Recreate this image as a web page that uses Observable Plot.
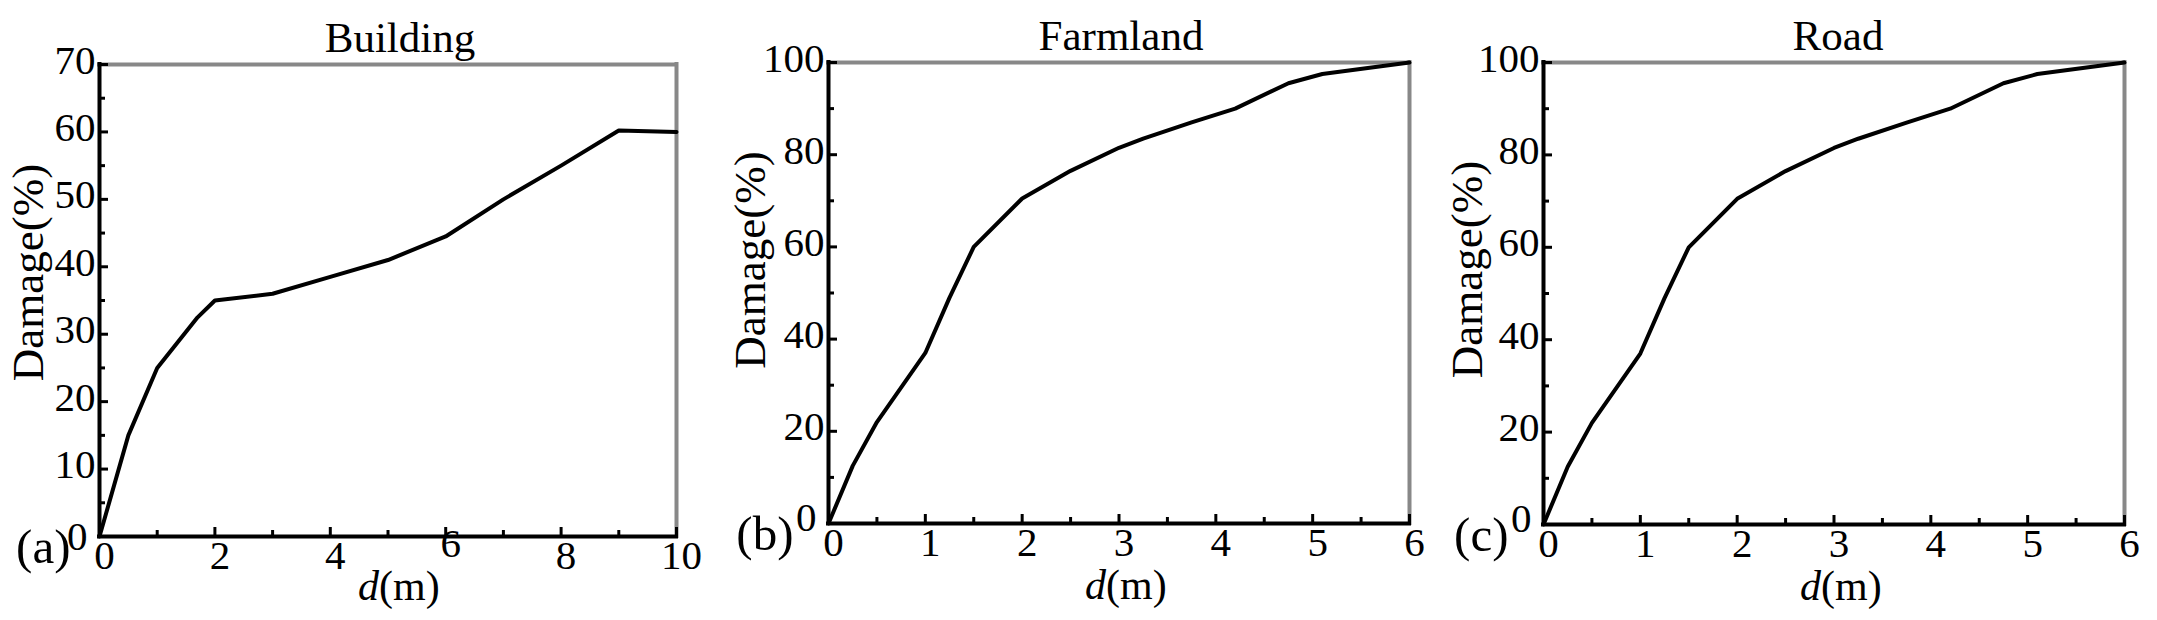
<!DOCTYPE html>
<html>
<head>
<meta charset="utf-8">
<script src="https://cdn.jsdelivr.net/npm/d3@7"></script>
<script src="https://cdn.jsdelivr.net/npm/@observablehq/plot@0.6"></script>
<style>
  html, body { margin: 0; padding: 0; background: #fff; }
  #wrap { position: relative; width: 2157px; height: 620px; overflow: hidden; background: #fff; }
  #wrap > svg { position: absolute; top: 0; }
</style>
</head>
<body>
<div id="wrap"></div>
<script>
// ---------------- data ----------------
const buildingDepth  = [0, 0.5, 1, 1.7, 2, 3, 4, 5, 6, 7, 8, 9, 10];
const buildingDamage = [0, 15, 25, 32.5, 35, 36, 38.5, 41, 44.5, 50, 55, 60.2, 60];

const farmlandDepth  = [0, 0.25, 0.5, 1, 1.25, 1.5, 2, 2.5, 3, 3.25, 3.75, 4.2, 4.75, 5.1, 6];
const farmlandDamage = [0, 12.5, 22, 37, 49, 60, 70.5, 76.5, 81.5, 83.5, 87, 90, 95.5, 97.5, 100];

const roadDepth  = [0, 0.25, 0.5, 1, 1.25, 1.5, 2, 2.5, 3, 3.25, 3.75, 4.2, 4.75, 5.1, 6];
const roadDamage = [0, 12.5, 22, 37, 49, 60, 70.5, 76.5, 81.5, 83.5, 87, 90, 95.5, 97.5, 100];

const buildingXTicks = [0, 2, 4, 6, 8, 10];
const buildingXMinor = [1, 3, 5, 7, 9];
const buildingYTicks = [0, 10, 20, 30, 40, 50, 60, 70];
const buildingYMinor = [5, 15, 25, 35, 45, 55, 65];

const sixXTicks = [0, 1, 2, 3, 4, 5, 6];
const sixXMinor = [0.5, 1.5, 2.5, 3.5, 4.5, 5.5];
const pctYTicks = [0, 20, 40, 60, 80, 100];
const pctYMinor = [10, 30, 50, 70, 90];

const titles  = ["Building", "Farmland", "Road"];
const letters = ["(a)", "(b)", "(c)"];
const yLabel = "Damage(%)";
const xLabelItalic = "d";
const xLabelRest = "(m)";

// ---------------- layout ----------------
const FONT = "'Liberation Serif', 'Times New Roman', Times, serif";
const panels = [
  {left: 0, width: 720, mL: 99, mR: 44, mT: 64, mB: 84,
   depth: buildingDepth, damage: buildingDamage, xMax: 10, yMax: 70,
   xTicks: buildingXTicks, xMinor: buildingXMinor, yTicks: buildingYTicks, yMinor: buildingYMinor,
   title: titles[0], letter: letters[0], titleDx: 12, letterDx: -29, zeroDy: 0,
   yLabDx: -71, yLabDy: -28, xLabDx: 10, xLabDy: 50, raised: 6},
  {left: 720, width: 720, mL: 108, mR: 31, mT: 62, mB: 97,
   depth: farmlandDepth, damage: farmlandDamage, xMax: 6, yMax: 100,
   xTicks: sixXTicks, xMinor: sixXMinor, yTicks: pctYTicks, yMinor: pctYMinor,
   title: titles[1], letter: letters[1], titleDx: 2, letterDx: -35, zeroDy: -6,
   yLabDx: -78, yLabDy: -33, xLabDx: 6, xLabDy: 62, raised: null},
  {left: 1440, width: 717, mL: 103, mR: 33, mT: 62, mB: 96,
   depth: roadDepth, damage: roadDamage, xMax: 6, yMax: 100,
   xTicks: sixXTicks, xMinor: sixXMinor, yTicks: pctYTicks, yMinor: pctYMinor,
   title: titles[2], letter: letters[2], titleDx: 4, letterDx: -35, zeroDy: -6,
   yLabDx: -76, yLabDy: -24, xLabDx: 6, xLabDy: 62, raised: null}
];

const wrap = document.getElementById("wrap");

for (const p of panels) {
  const H = 620;
  const innerW = p.width - p.mL - p.mR;
  const innerH = H - p.mT - p.mB;
  const rows = p.depth.map((d, i) => ({d, v: p.damage[i]}));
  const normalX = p.raised == null ? p.xTicks : p.xTicks.filter(t => t !== p.raised);
  const raisedX = p.raised == null ? [] : [p.raised];
  const yNonZero = p.yTicks.filter(t => t !== 0);

  const chart = Plot.plot({
    width: p.width,
    height: H,
    marginLeft: p.mL, marginRight: p.mR, marginTop: p.mT, marginBottom: p.mB,
    style: {fontFamily: FONT, fontSize: "41px", color: "#000", background: "#fff", overflow: "visible"},
    x: {domain: [0, p.xMax]},
    y: {domain: [0, p.yMax]},
    marks: [
      // grey top & right frame
      Plot.ruleY([p.yMax], {stroke: "#888", strokeWidth: 4, strokeLinecap: "square"}),
      Plot.ruleX([p.xMax], {stroke: "#888", strokeWidth: 4, strokeLinecap: "square"}),
      // damage curve
      Plot.line(rows, {x: "d", y: "v", stroke: "#000", strokeWidth: 4, strokeLinejoin: "round"}),
      // black left & bottom axes
      Plot.ruleX([0], {stroke: "#000", strokeWidth: 4, strokeLinecap: "square"}),
      Plot.ruleY([0], {stroke: "#000", strokeWidth: 4, strokeLinecap: "square"}),
      // inward ticks
      Plot.tickY(p.yTicks, {y: d => d, stroke: "#000", strokeWidth: 3, insetRight: innerW - 9}),
      Plot.tickY(p.yMinor, {y: d => d, stroke: "#000", strokeWidth: 3, insetRight: innerW - 6}),
      Plot.tickX(p.xTicks, {x: d => d, stroke: "#000", strokeWidth: 3, insetTop: innerH - 9}),
      Plot.tickX(p.xMinor, {x: d => d, stroke: "#000", strokeWidth: 3, insetTop: innerH - 6}),
      // tick labels
      Plot.axisY(yNonZero, {tickSize: 0, tickPadding: 4, dy: -4, fontSize: 41, label: null}),
      Plot.axisY([0], {tickSize: 0, tickPadding: 12, dy: p.zeroDy, fontSize: 41, label: null}),
      Plot.axisX(normalX, {tickSize: 0, tickPadding: 3, dx: 5, fontSize: 41, label: null}),
      ...(raisedX.length ? [Plot.axisX(raisedX, {tickSize: 0, tickPadding: 3, dx: 5, dy: -12, fontSize: 41, label: null})] : []),
      // title
      Plot.text([p.title], {text: d => d, frameAnchor: "top", textAnchor: "middle", lineAnchor: "bottom",
        dx: p.titleDx, dy: -13, fontSize: 43}),
      // y label
      Plot.text([yLabel], {text: d => d, frameAnchor: "left", textAnchor: "middle", lineAnchor: "middle",
        rotate: -90, dx: p.yLabDx, dy: p.yLabDy, fontSize: 45}),
      // x label: italic d + (m)
      Plot.text([xLabelItalic], {text: d => d, frameAnchor: "bottom", textAnchor: "end", lineAnchor: "middle",
        dx: p.xLabDx - 19, dy: p.xLabDy, fontSize: 42, fontStyle: "italic"}),
      Plot.text([xLabelRest], {text: d => d, frameAnchor: "bottom", textAnchor: "start", lineAnchor: "middle",
        dx: p.xLabDx - 19, dy: p.xLabDy, fontSize: 42}),
      // panel letter
      Plot.text([p.letter], {text: d => d, frameAnchor: "bottom-left", textAnchor: "end", lineAnchor: "bottom",
        dx: p.letterDx, dy: 26, fontSize: 49})
    ]
  });
  chart.style.left = p.left + "px";
  wrap.appendChild(chart);
}
</script>
</body>
</html>
